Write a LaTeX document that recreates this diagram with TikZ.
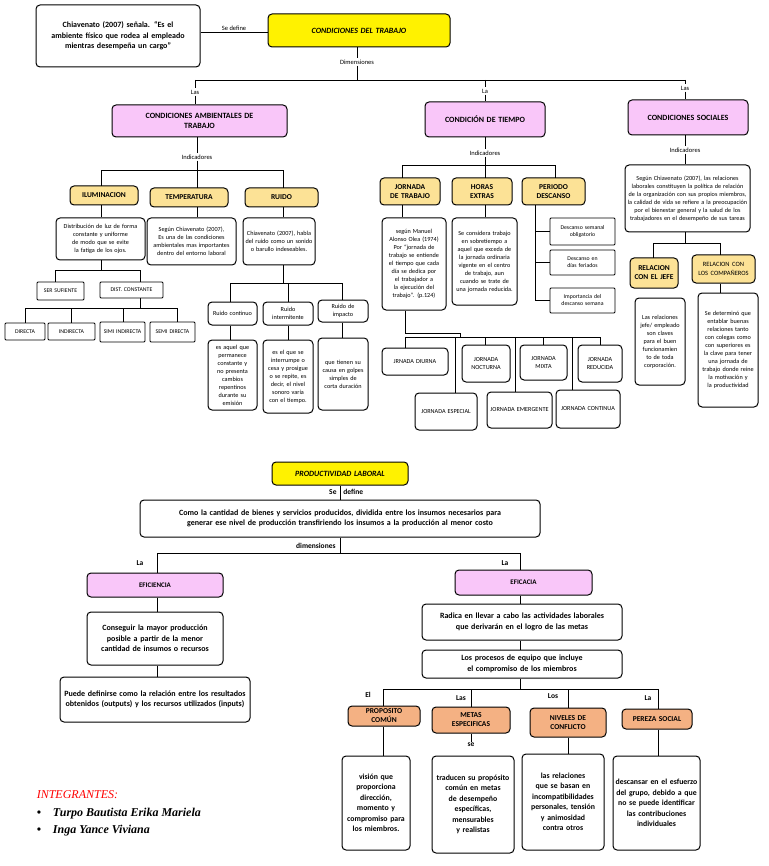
\documentclass[tikz,border=0pt]{standalone}
\usepackage{fontspec}
\setmainfont{Carlito}
\newfontfamily\tnr{Liberation Serif}
\definecolor{pk}{RGB}{249,198,249}
\definecolor{og}{RGB}{252,226,150}
\definecolor{sl}{RGB}{244,177,131}
\begin{document}
\begin{tikzpicture}[x=1pt,y=-1pt,line width=0.9pt,
  base/.style={draw,rounded corners=4pt,align=center,inner sep=1pt,line width=1pt},
  wb/.style={base,fill=white,font=\fontsize{6.2}{8}\selectfont},
  wbb/.style={base,fill=white,font=\bfseries\fontsize{8}{10.5}\selectfont},
  yel/.style={base,fill=yellow,font=\bfseries\itshape\fontsize{8}{10}\selectfont},
  pink/.style={base,fill=pk,font=\bfseries\fontsize{8}{10}\selectfont},
  org/.style={base,fill=og,font=\bfseries\fontsize{7.5}{9}\selectfont},
  sal/.style={base,fill=sl,font=\bfseries\fontsize{7.5}{9}\selectfont},
  sq/.style={draw,align=center,inner sep=1pt,fill=white,rounded corners=1pt,font=\fontsize{5.8}{7}\selectfont},
  lab/.style={font=\fontsize{6.5}{8}\selectfont,inner sep=1pt},
  labb/.style={font=\bfseries\fontsize{7.5}{9}\selectfont,inner sep=1pt}]
\hyphenpenalty=10000
\newcommand\bx[7]{\node[#6,minimum width={(#4-#2)*1pt},minimum height={(#5-#3)*1pt},text width={(#4-#2-5)*1pt}] (#1) at ({(#2+#4)/2},{(#3+#5)/2}) {#7};}
\useasboundingbox (0,0) rectangle (768,866);
\fill[white] (0,0) rectangle (768,866);
% ---------------- top
\bx{chv}{36}{5}{200}{67}{wbb}{Chiavenato (2007) señala. ``Es el ambiente físico que rodea al empleado mientras desempeña un cargo''}
\bx{ct}{268}{14}{450}{47}{yel}{CONDICIONES DEL TRABAJO}
\draw (chv.east|-0,32) -- (ct.west|-0,32) node[lab,midway,above]{Se define};
\node[lab] (dim) at (357,62) {Dimensiones};
\draw (ct.south-|357,0) -- (dim.north); \draw (dim.south) -- (357,80);
\bx{cat}{112}{105}{287}{137}{pink}{CONDICIONES AMBIENTALES DE\\TRABAJO}
\bx{ctp}{425}{102}{545}{137}{pink}{CONDICIÓN DE TIEMPO}
\bx{cs}{628}{100}{748}{135}{pink}{CONDICIONES SOCIALES}
\draw (195,80) -- (685,80);
\node[lab] (l1) at (195,92) {Las}; \node[lab] (l2) at (485,91) {La}; \node[lab] (l3) at (685,88) {Las};
\draw (195,80)--(l1.north) (l1.south)--(cat.north-|195,0);
\draw (485,80)--(l2.north) (l2.south)--(ctp.north-|485,0);
\draw (685,80)--(l3.north) (l3.south)--(cs.north-|685,0);
% CAT
\node[lab] (i1) at (197,157) {Indicadores};
\draw (cat.south-|197,0)--(i1.north) (i1.south)--(197,170);
\bx{ilu}{70}{186}{138}{205}{org}{ILUMINACION}
\bx{tem}{150}{188}{228}{207}{org}{TEMPERATURA}
\bx{rui}{245}{188}{318}{207}{org}{RUIDO}
\draw (101,186)--(101,170)--(283,170)--(283,188) (197,170)--(197,188);
\bx{ilud}{56}{218}{145}{260}{wb}{Distribución de luz de forma constante y uniforme de modo que se evite la fatiga de los ojos.}
\bx{temd}{147}{218}{236}{265}{wb}{Según Chiavenato (2007), Es una de las condiciones ambientales mas importantes dentro del entorno laboral}
\bx{ruid}{243}{218}{315}{265}{wb}{Chiavenato (2007), habla del ruido como un sonido o barullo indeseables.}
\draw (ilu.south-|101,0)--(ilud.north-|101,0) (tem.south-|197,0)--(temd.north-|197,0) (rui.south-|283,0)--(ruid.north-|283,0);
\bx{ser}{37}{282}{84}{300}{sq}{SER SUFIENTE}
\bx{dist}{100}{282}{163}{298}{sq}{DIST. CONSTANTE}
\draw (ilud.south-|101,0)--(101,270) (55,282)--(55,270)--(140,270)--(140,282);
\bx{dir}{5}{323}{45}{340}{sq}{DIRECTA}
\bx{ind}{48}{323}{95}{340}{sq}{INDIRECTA}
\bx{sim}{100}{322}{145}{342}{sq}{SIMI INDIRECTA}
\bx{sem}{150}{322}{195}{342}{sq}{SEMI DIRECTA}
\draw (dist.south-|140,0)--(140,308) (25,323)--(25,308)--(177,308)--(177,322) (71,308)--(71,323) (123,308)--(123,322);
\bx{rc}{208}{302}{257}{325}{wb}{Ruido continuo}
\bx{ri}{263}{302}{313}{325}{wb}{Ruido intermitente}
\bx{rp}{318}{300}{368}{322}{wb}{Ruido de impacto}
\draw (ruid.south-|283,0)--(283,283) (230,302)--(230,283)--(342,283)--(342,300) (288,283)--(288,302);
\bx{rcd}{208}{340}{257}{410}{wb}{es aquel que permanece constante y no presenta cambios repentinos durante su emisión}
\bx{rid}{263}{340}{313}{413}{wb}{es el que se interrumpe o cesa y prosigue o se repite, es decir, el nivel sonoro varía con el tiempo.}
\bx{rpd}{318}{338}{368}{410}{wb}{que tienen su causa en golpes simples de corta duración}
\draw (rc.south-|230,0)--(rcd.north-|230,0) (ri.south-|288,0)--(rid.north-|288,0) (rp.south-|342,0)--(rpd.north-|342,0);
% CT
\node[lab] (i2) at (485,153) {Indicadores};
\draw (ctp.south-|485,0)--(i2.north) (i2.south)--(485,165);
\bx{jt}{380}{178}{440}{205}{org}{JORNADA DE TRABAJO}
\bx{he}{452}{178}{512}{205}{org}{HORAS\\EXTRAS}
\bx{pd}{522}{178}{585}{205}{org}{PERIODO DESCANSO}
\draw (402,178)--(402,165)--(555,165)--(555,178) (485,165)--(485,178);
\bx{jtd}{382}{218}{446}{310}{wb}{según Manuel Alonso Olea (1974) Por ``jornada de trabajo se entiende el tiempo que cada día se dedica por el trabajador a la ejecución del trabajo''. (p.124)}
\bx{hed}{452}{218}{517}{305}{wb}{Se considera trabajo en sobretiempo a aquel que exceda de la jornada ordinaria vigente en el centro de trabajo, aun cuando se trate de una jornada reducida.}
\draw (jt.south-|402,0)--(jtd.north-|402,0) (he.south-|485,0)--(hed.north-|485,0);
\bx{pd1}{550}{218}{615}{245}{sq}{Descanso semanal obligatorio}
\bx{pd2}{550}{250}{615}{275}{sq}{Descanso en días feriados}
\bx{pd3}{550}{288}{615}{313}{sq}{Importancia del descanso semana}
\draw (pd.south-|535,0)--(535,300)--(pd3.west|-0,300) (535,231)--(pd1.west|-0,231) (535,262)--(pd2.west|-0,262);
\bx{j1}{382}{348}{448}{375}{wb}{JRNADA DIURNA}
\bx{j2}{462}{345}{510}{382}{wb}{JORNADA NOCTURNA}
\bx{j3}{520}{345}{567}{380}{wb}{JORNADA MIXTA}
\bx{j4}{578}{345}{622}{382}{wb}{JORNADA REDUCIDA}
\bx{j5}{415}{393}{477}{430}{wb}{JORNADA ESPECIAL}
\bx{j6}{487}{392}{552}{428}{wb}{JORNADA EMERGENTE}
\bx{j7}{556}{390}{620}{428}{wb}{JORNADA CONTINUA}
\draw (jtd.south-|405,0)--(405,333)--(460,333)--(460,337);
\draw (405,348)--(405,337)--(600,337)--(600,345) (485,337)--(485,345) (543,337)--(543,345);
\draw (455,337)--(455,393) (515,337)--(515,392) (572,337)--(572,390);
% CS
\node[lab] (i3) at (685,150) {Indicadores};
\draw (cs.south-|685,0)--(i3.north);
\bx{csd}{625}{165}{750}{232}{wb}{Según Chiavenato (2007), las relaciones laborales constituyen la política de relación de la organización con sus propios miembros, la calidad de vida se refiere a la preocupación por el bienestar general y la salud de los trabajadores en el desempeño de sus tareas}
\draw (i3.south)--(csd.north-|685,0);
\bx{rj}{630}{258}{678}{288}{org}{RELACION CON EL JEFE}
\bx{rco}{692}{255}{755}{283}{org}{\mdseries\fontsize{6.5}{8}\selectfont RELACION CON LOS COMPAÑEROS}
\draw (csd.south-|685,0)--(685,243) (653,258)--(653,243)--(720,243)--(720,255);
\bx{rjd}{635}{298}{685}{385}{wb}{Las relaciones jefe/ empleado son claves para el buen funcionamien to de toda corporación.}
\bx{rcod}{698}{293}{758}{407}{wb}{Se determinó que entablar buenas relaciones tanto con colegas como con superiores es la clave para tener una jornada de trabajo donde reine la motivación y la productividad}
\draw (rco.south-|720,0)--(rcod.north-|720,0);
% ---------------- bottom
\bx{pl}{272}{462}{408}{485}{yel}{PRODUCTIVIDAD LABORAL}
\bx{def}{140}{500}{540}{537}{wbb}{Como la cantidad de bienes y servicios producidos, dividida entre los insumos necesarios para generar ese nivel de producción transfiriendo los insumos a la producción al menor costo}
\draw (pl.south-|340,0)--(def.north-|340,0);
\node[labb,anchor=east] at (338,492) {Se}; \node[labb,anchor=west] at (342,492) {define};
\node[labb,anchor=east] at (337,546) {dimensiones};
\draw (def.south-|340,0)--(340,553) (157,573)--(157,553)--(520,553)--(520,570);
\node[labb] at (140,563) {La}; \node[labb] at (505,563) {La};
\bx{efi}{87}{573}{223}{597}{pink}{\fontsize{7}{8}\selectfont EFICIENCIA}
\bx{efa}{455}{570}{592}{595}{pink}{\fontsize{7}{8}\selectfont EFICACIA}
\bx{efi1}{87}{612}{223}{665}{wbb}{Conseguir la mayor producción posible a partir de la menor cantidad de insumos o recursos}
\bx{efi2}{60}{677}{250}{722}{wbb}{Puede definirse como la relación entre los resultados obtenidos (outputs) y los recursos utilizados (inputs)}
\draw (efi.south-|157,0)--(efi1.north-|157,0) (efi1.south-|157,0)--(efi2.north-|157,0);
\bx{efa1}{422}{604}{622}{640}{wbb}{Radica en llevar a cabo las actividades laborales que derivarán en el logro de las metas}
\bx{efa2}{422}{650}{622}{678}{wbb}{Los procesos de equipo que incluye el compromiso de los miembros}
\draw (efa.south-|520,0)--(efa1.north-|520,0) (efa1.south-|520,0)--(efa2.north-|520,0) (efa2.south-|520,0)--(520,689);
\bx{pc}{348}{706}{420}{726}{sal}{PROPOSITO\\COMÚN}
\bx{me}{432}{707}{510}{733}{sal}{METAS\\ESPECIFICAS}
\bx{nc}{530}{708}{606}{737}{sal}{NIVELES DE\\CONFLICTO}
\bx{ps}{622}{709}{692}{729}{sal}{PEREZA SOCIAL}
\draw (383,706)--(383,689)--(658,689)--(658,709) (471,689)--(471,707) (568,689)--(568,708);
\node[labb] at (368,695) {El}; \node[labb] at (461,698) {Las}; \node[labb] at (553,696) {Los}; \node[labb] at (648,698) {La};
\bx{pcd}{342}{756}{410}{850}{wbb}{\fontsize{7.8}{11}\selectfont visión que proporciona dirección, momento y compromiso para los miembros.}
\bx{med}{432}{756}{514}{853}{wbb}{\fontsize{7.8}{11}\selectfont traducen su propósito común en metas de desempeño específicas, mensurables y realistas}
\bx{ncd}{522}{754}{604}{850}{wbb}{\fontsize{7.8}{11}\selectfont las relaciones que se basan en incompatibilidades personales, tensión y animosidad contra otros}
\bx{psd}{613}{756}{700}{850}{wbb}{\fontsize{7.8}{11}\selectfont descansar en el esfuerzo del grupo, debido a que no se puede identificar las contribuciones individuales}
\node[labb,fill=white] (se) at (471,745) {se};
\draw (me.south-|471,0)--(se.north) (pc.south-|383,0)--(pcd.north-|383,0) (nc.south-|568,0)--(ncd.north-|568,0) (ps.south-|658,0)--(psd.north-|658,0);
% integrantes
\node[anchor=west,text=red,font=\tnr\itshape\fontsize{12}{13}\selectfont] (int) at (33,795) {INTEGRANTES:};
\node[anchor=west,font=\tnr\bfseries\itshape\fontsize{12}{13}\selectfont] (m1) at (33,814) {•\quad Turpo Bautista Erika Mariela};
\node[anchor=west,font=\tnr\bfseries\itshape\fontsize{12}{13}\selectfont] (m2) at (33,831) {•\quad Inga Yance Viviana};
\end{tikzpicture}
\end{document}
